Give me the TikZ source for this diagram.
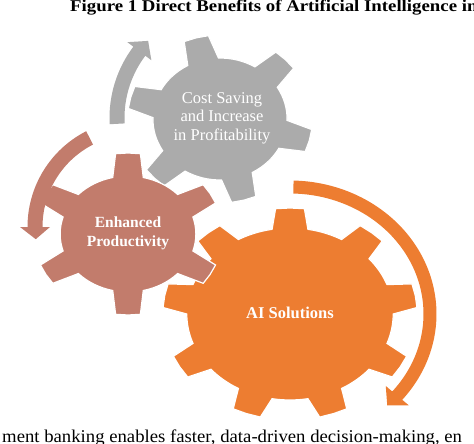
\documentclass[tikz,border=0pt]{standalone}
\usepackage{fontspec}
\setmainfont{Liberation Serif}
\newfontfamily\titlefont[FakeStretch=1.14]{Liberation Serif}
\newfontfamily\bodyfont[FakeStretch=1.04]{Liberation Serif}
\definecolor{orangec}{HTML}{ED7D31}
\definecolor{grayc}{HTML}{ABABAB}
\definecolor{brownc}{HTML}{C27C6C}
% #1 cx, #2 cy, #3 teeth, #4 root radius, #5 tip radius, #6 first tooth angle,
% #7 base half-angle, #8 tip half-angle, #9 horizontal stretch
\newcommand\drawgear[9]{%
  \pgfmathsetmacro\gstep{360/#3}%
  \pgfmathtruncatemacro\glast{#3-1}%
  \path[gearbody] ({#1+#9*#4*cos(#6-#7)},{#2+#4*sin(#6-#7)})
    \foreach \gi in {0,...,\glast}{
      -- ({#1+#9*#5*cos(#6+\gi*\gstep-#8)},{#2+#5*sin(#6+\gi*\gstep-#8)})
      -- ({#1+#9*#5*cos(#6+\gi*\gstep)},{#2+#5*sin(#6+\gi*\gstep)})
      -- ({#1+#9*#5*cos(#6+\gi*\gstep+#8)},{#2+#5*sin(#6+\gi*\gstep+#8)})
      -- ({#1+#9*#4*cos(#6+\gi*\gstep+#7)},{#2+#4*sin(#6+\gi*\gstep+#7)})
      \foreach \gk in {1,...,8}{
        -- ({#1+#9*#4*cos(#6+\gi*\gstep+#7+\gk*(\gstep-2*#7)/8)},{#2+#4*sin(#6+\gi*\gstep+#7+\gk*(\gstep-2*#7)/8)})
      }
    } -- cycle;%
}
\begin{document}
\begin{tikzpicture}[x=1pt,y=-1pt,
  gearlabel/.style={text=white, align=center, inner sep=0pt}]
\useasboundingbox (0,0) rectangle (474,444);
\clip (0,0) rectangle (474,444);

% title and body text (cut by the page edges)
\node[anchor=base west, inner sep=0pt] (title) at (70,11.5)
  {\titlefont\bfseries\fontsize{16.5}{18}\selectfont Figure 1 Direct Benefits of Artificial Intelligence in};
\node[anchor=base west, inner sep=0pt] (bodytext) at (2,442.5)
  {\bodyfont\fontsize{18}{20}\selectfont ment banking enables faster, data-driven decision-making, en};

% gears
\begin{scope}[gearbody/.style={fill=orangec, draw=white, line width=1.2}]
  \drawgear{290}{314}{9}{86}{106}{-90}{10}{6.5}{1.2}
\end{scope}
\begin{scope}[gearbody/.style={fill=grayc, draw=white, line width=1.2}]
  \drawgear{220}{119}{6}{61}{84}{-105}{13.7}{7.8}{1.1}
\end{scope}
\begin{scope}[gearbody/.style={fill=brownc, draw=white, line width=1.2}]
  \drawgear{128}{234}{6}{58}{81}{-90}{13}{7.5}{1.17}
\end{scope}

% circular arrows
\fill[grayc] plot[domain=177:217, samples=30, variable=\t] ({228+118.5*cos(\t)},{118+118.5*sin(\t)})
  -- ({228+126*cos(217)},{118+126*sin(217)})
  -- ({228+111*cos(224)},{118+111*sin(224)})
  -- ({228+96*cos(217)},{118+96*sin(217)})
  -- plot[domain=217:177, samples=30, variable=\t] ({228+103.5*cos(\t)},{118+103.5*sin(\t)}) -- cycle;

\fill[brownc] plot[domain=243:180, samples=40, variable=\t] ({135+107.5*cos(\t)},{227+107.5*sin(\t)})
  -- ({135+115*cos(180)},{227+115*sin(180)})
  -- ({135+100*cos(173)},{227+100*sin(173)})
  -- ({135+85*cos(180)},{227+85*sin(180)})
  -- plot[domain=180:243, samples=40, variable=\t] ({135+92.5*cos(\t)},{227+92.5*sin(\t)}) -- cycle;

\fill[orangec] plot[domain=-88.6:40, samples=70, variable=\t] ({290+146.5*cos(\t)},{314+133.5*sin(\t)})
  -- ({290+155*cos(40)},{314+142*sin(40)})
  -- ({290+140*cos(46)},{314+127*sin(46)})
  -- ({290+125*cos(40)},{314+112*sin(40)})
  -- plot[domain=40:-88.6, samples=70, variable=\t] ({290+133.5*cos(\t)},{314+120.5*sin(\t)}) -- cycle;

% labels
\node[gearlabel, font=\fontsize{16.5}{18.5}\selectfont] (costlbl) at (222,118)
  {Cost Saving\\and Increase\\in Profitability};
\node[gearlabel, font=\bfseries\fontsize{15.5}{19}\selectfont] (prodlbl) at (128,233)
  {Enhanced\\Productivity};
\node[gearlabel, font=\bfseries\fontsize{16.5}{19}\selectfont] (ailbl) at (290,313)
  {AI Solutions};
\end{tikzpicture}
\end{document}
